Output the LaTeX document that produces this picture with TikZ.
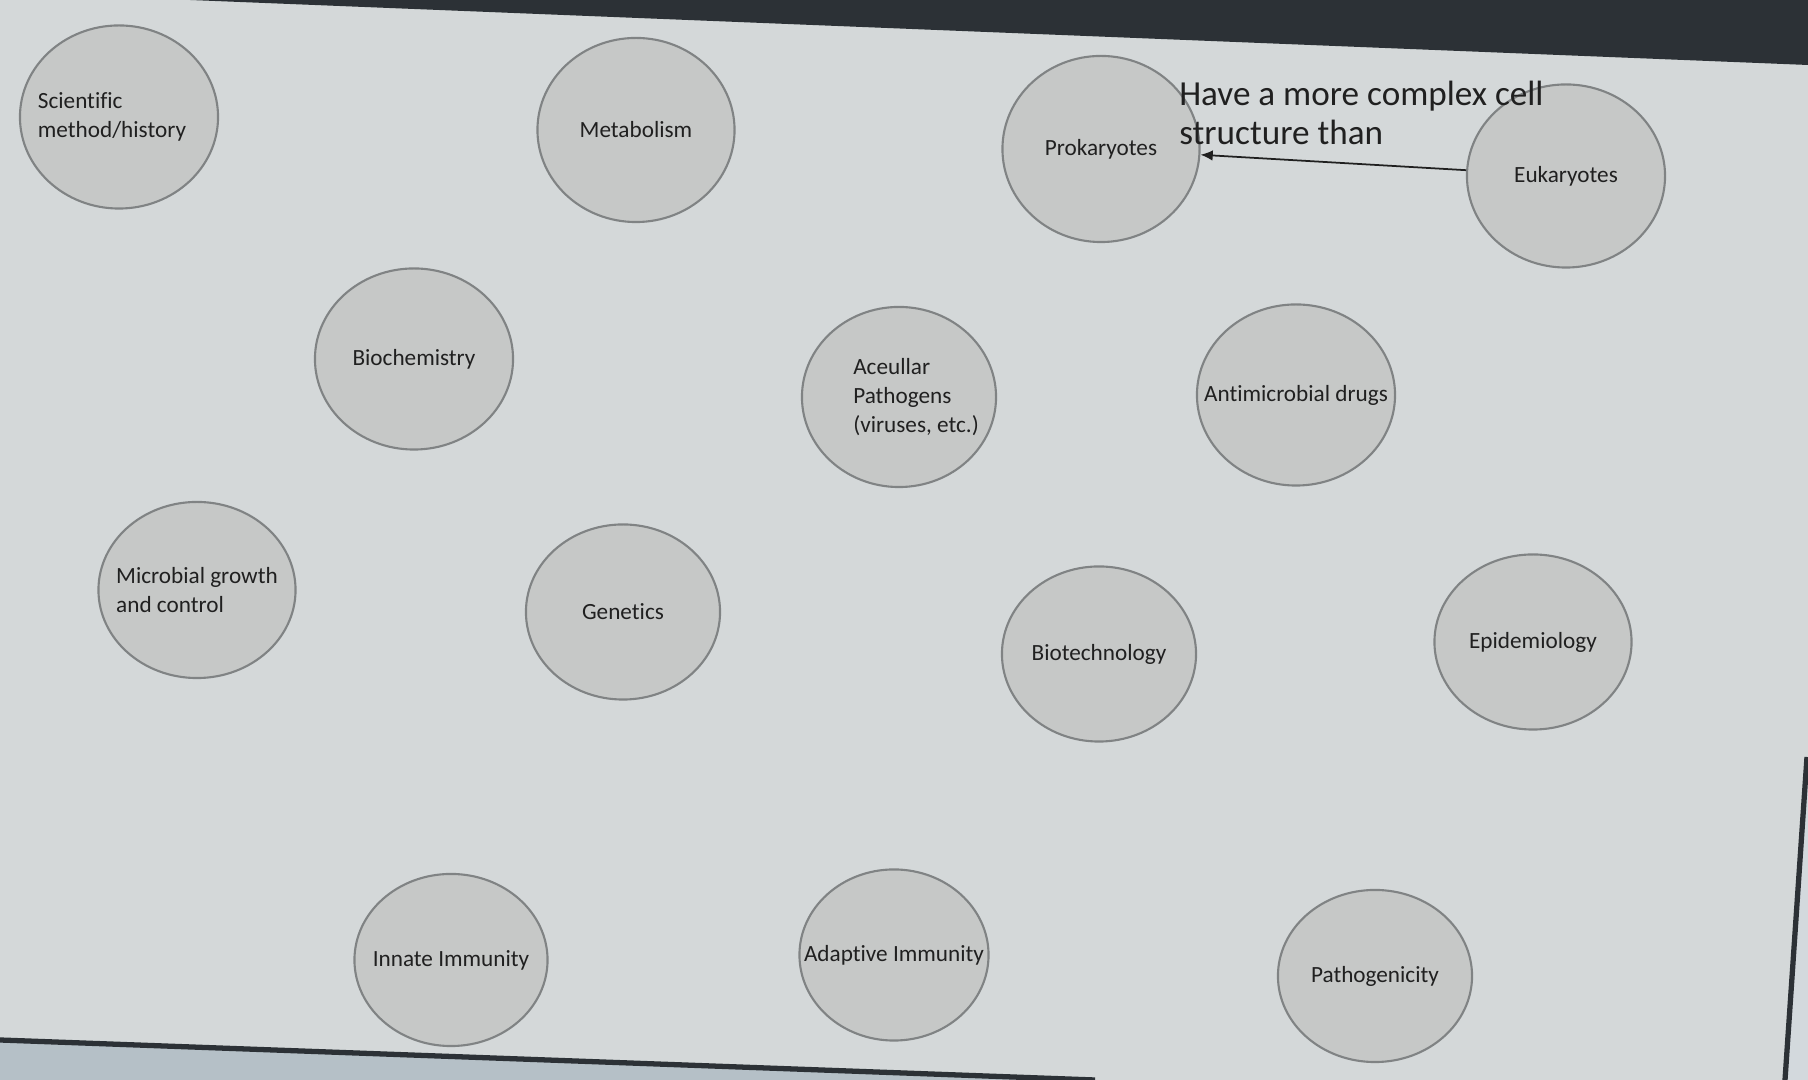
\documentclass[tikz,border=0pt]{standalone}
\usepackage{fontspec}
\setmainfont{Carlito}[Ligatures=NoCommon]
\usepackage{tikz}
\usetikzlibrary{shapes.geometric,arrows.meta}
\definecolor{screen}{HTML}{D4D8D9}
\definecolor{bubble}{HTML}{C6C8C7}
\definecolor{rim}{HTML}{808384}
\definecolor{ink}{HTML}{202020}
\definecolor{bezel}{HTML}{2C3136}
\definecolor{desk}{HTML}{B5C0C7}
\tikzset{
  topic/.style={ellipse, draw=rim, fill=bubble, line width=0.6pt, inner sep=0pt},
  lab/.style={text=ink, font=\fontsize{6.6}{8.3}\selectfont, align=left, inner sep=0pt},
  link/.style={draw=ink, line width=0.5pt, -{Latex[length=3.5pt,width=3pt]}},
  linklab/.style={text=ink, font=\fontsize{10}{11.2}\selectfont, align=left, inner sep=0pt},
  edge/.style={draw=bezel, line width=1.5pt},
}

\begin{document}
\begin{tikzpicture}[x=0.01cm,y=-0.01cm]
  \useasboundingbox (0,0) rectangle (1808,1080);
  % screen, bezel and desk
  \fill[screen] (0,0) rectangle (1808,1080);
  \fill[bezel] (190,0) -- (1808,0) -- (1808,65) -- cycle;
  \fill[desk] (0,1040) -- (1095,1080) -- (0,1080) -- cycle;
  \draw[edge] (0,1040) -- (1095,1080);
  \fill[desk!60!white] (1808,757) -- (1785,1080) -- (1808,1080) -- cycle;
  \draw[edge] (1807,757) -- (1785,1080);
  % topics (last but one field: shift of the text)
  \foreach \n/\x/\y/\w/\h/\s/\t in {
    sci/119/117/1.98/1.83/-0.07/{Scientific\\method/history},
    met/636/130/1.97/1.84/0/{Metabolism},
    pro/1101/149/1.97/1.86/0/{Prokaryotes},
    euk/1566/176/1.98/1.83/0/{Eukaryotes},
    bio/414/359/1.98/1.81/0/{Biochemistry},
    acel/899/397/1.94/1.80/0.17/{Aceullar\\Pathogens\\(viruses, etc.)},
    anti/1296/395/1.98/1.81/0/{Antimicrobial drugs},
    mic/197/590/1.97/1.76/0/{Microbial growth\\and control},
    gen/623/612/1.94/1.75/0/{Genetics},
    btech/1099/654/1.94/1.75/0/{Biotechnology},
    epi/1533/642/1.97/1.75/0/{Epidemiology},
    inn/451/960/1.93/1.72/0/{Innate Immunity},
    adap/894/955/1.89/1.71/0/{Adaptive Immunity},
    path/1375/976/1.94/1.72/0/{Pathogenicity}}
    \node[topic, minimum width=\w cm, minimum height=\h cm,
          label={[lab, xshift=\s cm]center:\t}] (\n) at (\x,\y) {};
  % relation
  \draw[link] (euk) -- node[linklab, pos=1, anchor=south west,
    xshift=-0.22cm, yshift=0.09cm] (rel) {Have a more complex cell\\structure than} (pro);
\end{tikzpicture}
\end{document}
